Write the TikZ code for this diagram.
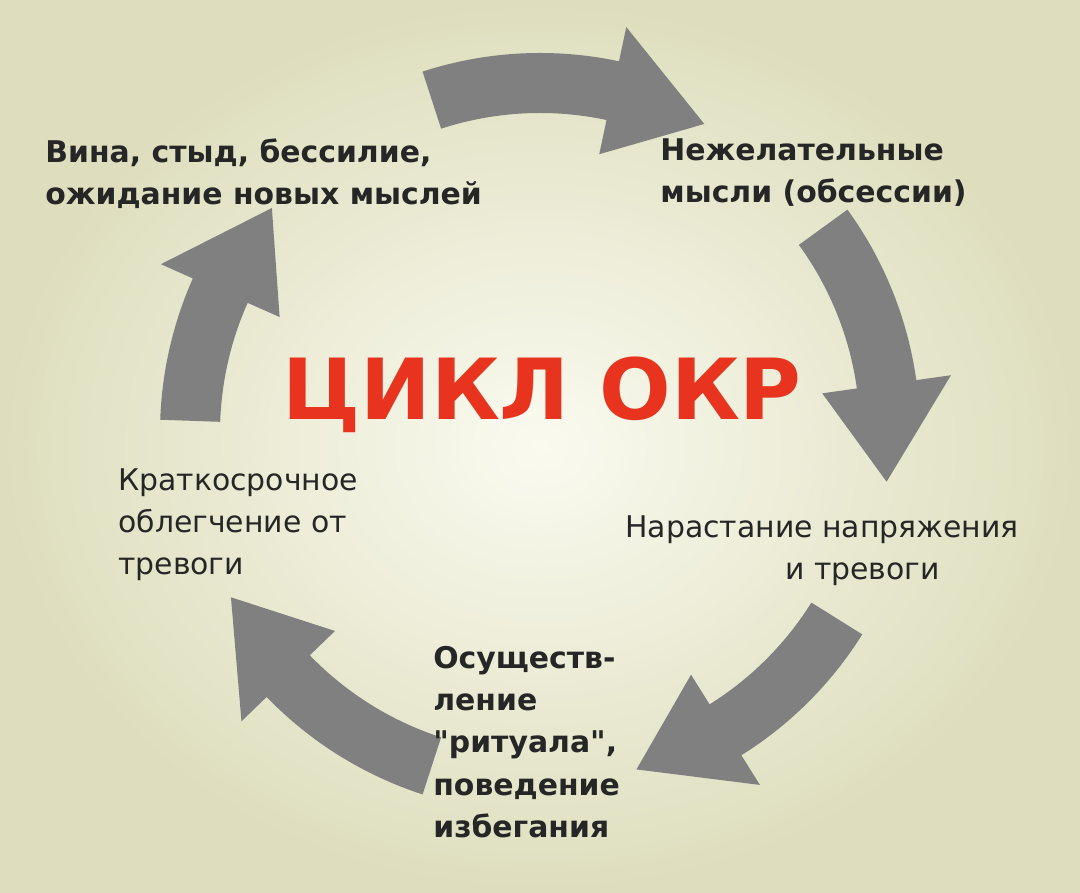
\documentclass[tikz,border=0pt]{standalone}
\usepackage{fontspec}
\setmainfont{DejaVu Sans}
\newfontfamily\plainq{DejaVu Sans}
\newcommand{\sq}{{\plainq\bfseries "}}
\definecolor{arrgray}{RGB}{128,128,128}
\definecolor{okred}{RGB}{232,52,30}
\definecolor{bgin}{RGB}{250,250,240}
\definecolor{bgout}{RGB}{222,222,190}
\tikzset{
  lbl/.style={font=\fontsize{17}{24}\selectfont\bfseries, align=left, text=black!85, inner sep=0pt},
  lblr/.style={font=\fontsize{17}{24}\selectfont, align=left, text=black!85, inner sep=0pt}
}
% arrow: #1 start angle, #2 end angle (tip), clockwise
\newcommand{\cycarrow}[2]{%
  \pgfmathsetmacro{\hb}{#2+16}%
  \fill[arrgray] (#1:380) arc[start angle=#1,end angle=\hb,radius=380] -- (\hb:415)
     -- (#2:350) -- (\hb:285) -- (\hb:320) arc[start angle=\hb,end angle=#1,radius=320] -- cycle;}
\begin{document}
\begin{tikzpicture}[x=0.02cm,y=0.02cm]
\shade[inner color=bgin, outer color=bgout] (0,0) rectangle (1080,893);
\useasboundingbox (0,0) rectangle (1080,893);
\begin{scope}[shift={(540,460)}]
\cycarrow{108}{62}
\cycarrow{36}{-8}
\cycarrow{-32}{-74}
\cycarrow{-108}{-152}
\cycarrow{178}{140}
\end{scope}
\node[font=\fontsize{48}{50}\selectfont\bfseries, text=okred] (title) at (542,498) {ЦИКЛ ОКР};
\node[lbl, anchor=north west] (a) at (45,755) {Вина, стыд, бессилие,\\ожидание новых мыслей};
\node[lbl, anchor=north west] (b) at (660,755) {Нежелательные\\мысли (обсессии)};
\node[lblr, anchor=north] (c) at (822,378) {Нарастание напряжения\\\hspace*{3.2cm}и тревоги};
\node[lbl, anchor=north west] (d) at (433,247) {Осуществ-\\ление\\\sq ритуала\sq,\\поведение\\избегания};
\node[lblr, anchor=north west] (e) at (118,425) {Краткосрочное\\облегчение от\\тревоги};
\end{tikzpicture}
\end{document}
